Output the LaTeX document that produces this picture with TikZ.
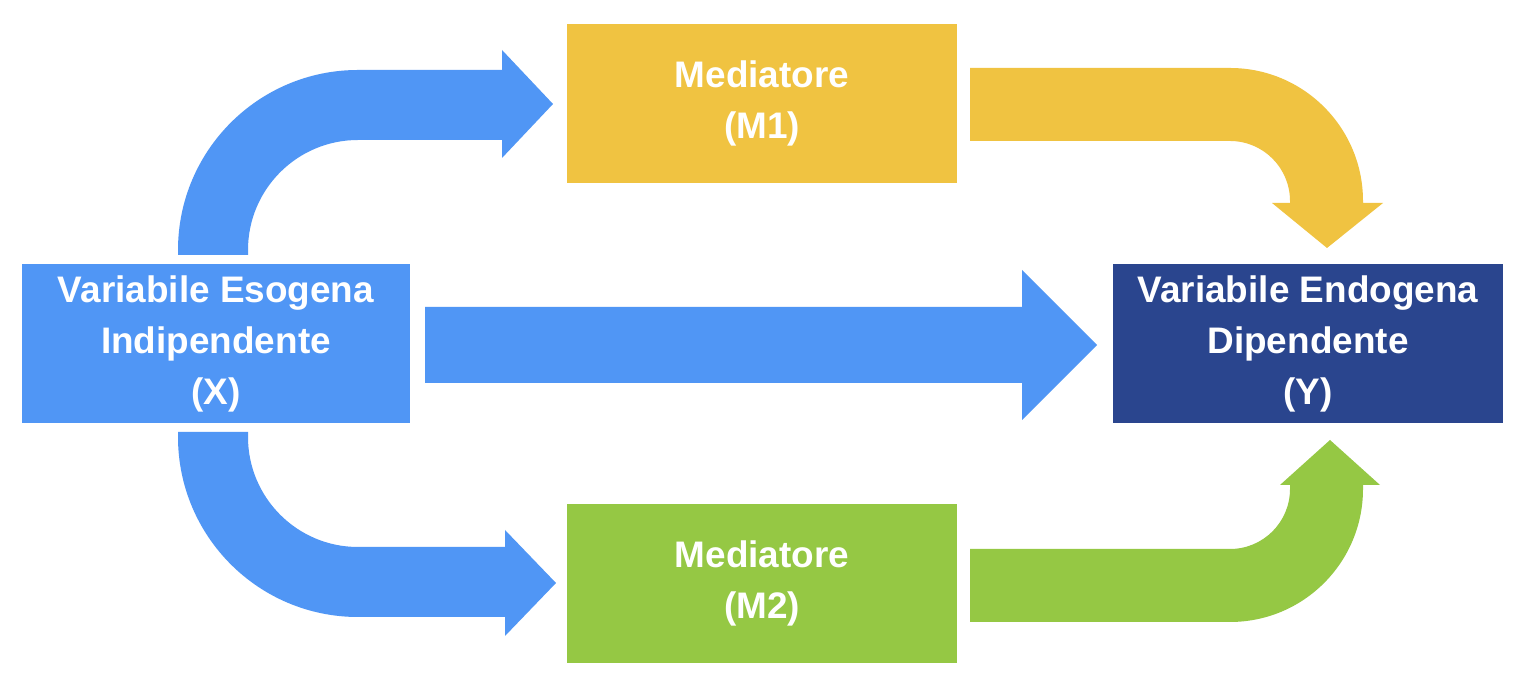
\documentclass[tikz,border=0pt]{standalone}
\usepackage{fontspec}
\setmainfont{Liberation Sans}
\begin{document}
\begin{tikzpicture}[x=0.01cm,y=0.01cm,
  box/.style={draw=none,inner sep=0pt,text=white,font=\bfseries\fontsize{10.5}{14.5}\selectfont,align=center},
  arr/.style={draw=none}]
\definecolor{cblue}{HTML}{5096F5}
\definecolor{cyel}{HTML}{F0C341}
\definecolor{cgreen}{HTML}{95C844}
\definecolor{cnavy}{HTML}{2A458E}
\useasboundingbox[fill=white] (0,0) rectangle (1539,-695);
\node[box,fill=cblue,minimum width=388\pgfmathfloatvalueof{1}*0.01cm,minimum width=3.88cm,minimum height=1.59cm] (X) at (216,-343.5) {Variabile Esogena\\Indipendente\\(X)};
\node[box,fill=cyel,minimum width=3.9cm,minimum height=1.59cm] (M1) at (762,-103.5) {Mediatore\\(M1)};
\node[box,fill=cgreen,minimum width=3.9cm,minimum height=1.59cm] (M2) at (762,-583.5) {Mediatore\\(M2)};
\node[box,fill=cnavy,minimum width=3.9cm,minimum height=1.59cm] (Y) at (1308,-343.5) {Variabile Endogena\\Dipendente\\(Y)};
% middle arrow
\fill[cblue] (425,-307) -- (1022,-307) -- (1022,-270) -- (1097,-345) -- (1022,-420) -- (1022,-383) -- (425,-383) -- cycle;
% top blue
\fill[cblue] (178,-255) -- (178,-250) arc[start angle=180,end angle=90,radius=180] -- (502,-70) -- (502,-50) -- (553,-104) -- (502,-158) -- (502,-140) -- (358,-140) arc[start angle=90,end angle=180,radius=110] -- (248,-255) -- cycle;
% bottom blue
\fill[cblue] (178,-432) -- (178,-437) arc[start angle=180,end angle=270,radius=180] -- (505,-617) -- (505,-636) -- (556,-583) -- (505,-530) -- (505,-547) -- (358,-547) arc[start angle=270,end angle=180,radius=110] -- (248,-432) -- cycle;
% yellow
\fill[cyel] (970,-68) -- (1230,-68) arc[start angle=90,end angle=0,radius=133] -- (1363,-203) -- (1383,-203) -- (1327,-248) -- (1272,-203) -- (1290,-203) -- (1290,-201) arc[start angle=0,end angle=90,radius=60] -- (970,-141) -- cycle;
% green
\fill[cgreen] (970,-549) -- (1230,-549) arc[start angle=270,end angle=360,radius=60] -- (1290,-485) -- (1280,-485) -- (1330,-440) -- (1380,-485) -- (1363,-485) -- (1363,-489) arc[start angle=0,end angle=-90,radius=133] -- (970,-622) -- cycle;
\end{tikzpicture}
\end{document}
